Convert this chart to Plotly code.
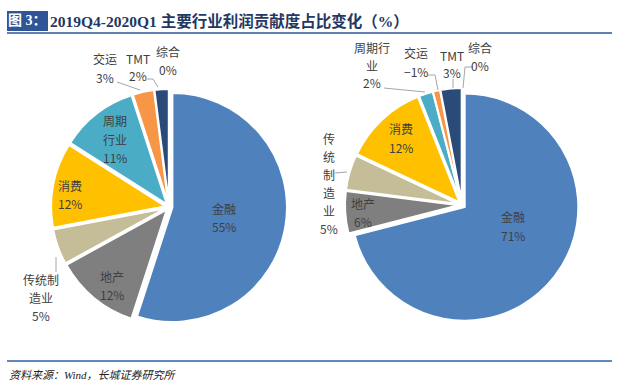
import plotly.graph_objects as go

# ---------------- data ----------------
categories = ["金融", "地产", "传统制造业", "消费", "周期行业", "交运", "TMT", "综合"]
share_2019q4 = [55, 12, 5, 12, 11, 3, 2, 0]
share_2020q1 = [71, 6, 5, 12, 2, -1, 3, 0]
colors = ["#4F81BD", "#7F7F7F", "#C4BD97", "#FFC000", "#4BACC6", "#F79646", "#2A4A78", "#8064A2"]

title_tag = "图 3："
title_text = "2019Q4-2020Q1 主要行业利润贡献度占比变化（%）"
source_text = "资料来源：Wind，长城证券研究所"

W, H = 635, 387


def px(x, y):
    return x / W, 1 - y / H


# label layout (wrapped text, pixel centre) – styling only
left_labels = {
    "金融": ("金融", 224, 217),
    "地产": ("地产", 112, 285),
    "传统制造业": ("传统制<br>造业", 41, 297),
    "消费": ("消费", 70, 194),
    "周期行业": ("周期<br>行业", 115, 139),
    "交运": ("交运", 105, 68),
    "TMT": ("TMT", 138, 67),
    "综合": ("综合", 168, 61),
}
right_labels = {
    "金融": ("金融", 513, 226),
    "地产": ("地产", 363, 212),
    "传统制造业": ("传<br>统<br>制<br>造<br>业", 329, 183),
    "消费": ("消费", 401, 138),
    "周期行业": ("周期行<br>业", 372, 65),
    "交运": ("交运", 416, 62),
    "TMT": ("TMT", 452, 64),
    "综合": ("综合", 480, 56),
}
left_leaders = [
    [(117, 82), (140, 90)],
    [(147, 79), (153, 79), (158, 87)],
    [(56, 257), (56, 272)],
]
right_leaders = [
    [(384, 88), (425, 92)],
    [(428, 75), (435, 75), (438, 90)],
    [(453, 79), (453, 88)],
    [(473, 67), (465, 67), (463, 88)],
    [(335, 173), (347, 172)],
]
LINE_GAP = 18


def fmt(v):
    return ("−" if v < 0 else "") + f"{abs(v)}%"


fig = go.Figure()

for vals, (cx, cy, half) in [(share_2019q4, (169, 207, 118)), (share_2020q1, (462, 205, 117))]:
    fig.add_trace(go.Pie(
        labels=categories,
        values=[abs(v) for v in vals],
        marker=dict(colors=colors, line=dict(color="white", width=2)),
        sort=False,
        direction="clockwise",
        rotation=0,
        pull=0.03,
        textinfo="none",
        showlegend=False,
        domain=dict(x=[(cx - half) / W, (cx + half) / W],
                    y=[1 - (cy + half) / H, 1 - (cy - half) / H]),
    ))

annotations = []
for vals, lab in [(share_2019q4, left_labels), (share_2020q1, right_labels)]:
    for cat, v in zip(categories, vals):
        txt, x, y = lab[cat]
        lines = txt.split("<br>") + [fmt(v)]
        n = len(lines)
        for i, line in enumerate(lines):
            ly = y + (i - (n - 1) / 2) * LINE_GAP
            ax, ay = px(x, ly)
            annotations.append(dict(
                x=ax, y=ay, xref="paper", yref="paper", showarrow=False,
                text=line, align="center",
                xanchor="center", yanchor="middle",
                font=dict(family="Noto Sans CJK SC", size=12, color="#404040"),
            ))

# title
annotations.append(dict(x=px(27, 21)[0], y=px(27, 21)[1], xref="paper", yref="paper",
                        showarrow=False, text=f"<b>{title_tag}</b>", xanchor="center", yanchor="middle",
                        font=dict(family="Liberation Serif, Noto Sans CJK SC", size=14, color="white")))
annotations.append(dict(x=px(48, 21)[0], y=px(48, 21)[1], xref="paper", yref="paper",
                        showarrow=False, text=f"<b>{title_text}</b>", xanchor="left", yanchor="middle",
                        font=dict(family="Liberation Serif, Noto Sans CJK SC", size=15.5, color="#1F3864")))
annotations.append(dict(x=px(7, 375)[0], y=px(7, 375)[1], xref="paper", yref="paper",
                        showarrow=False, text=f"<i>{source_text}</i>", xanchor="left", yanchor="middle",
                        font=dict(family="Liberation Serif, Noto Sans CJK SC", size=11, color="#222222")))

shapes = []
# title box
x0, y0 = px(7, 11)
x1, y1 = px(48, 31)
shapes.append(dict(type="rect", xref="paper", yref="paper", x0=x0, y0=y1, x1=x1, y1=y0,
                   fillcolor="#2F5597", line=dict(width=0), layer="below"))
# rules
for yy, col in [(33, "#2F5597"), (361, "#2E62A8")]:
    a, b = px(7, yy)
    c, _ = px(612, yy)
    shapes.append(dict(type="line", xref="paper", yref="paper", x0=a, y0=b, x1=c, y1=b,
                       line=dict(color=col, width=1.5)))
# leader lines
for poly in left_leaders + right_leaders:
    for (xa, ya), (xb, yb) in zip(poly[:-1], poly[1:]):
        p0 = px(xa, ya)
        p1 = px(xb, yb)
        shapes.append(dict(type="line", xref="paper", yref="paper", x0=p0[0], y0=p0[1],
                           x1=p1[0], y1=p1[1], line=dict(color="#A6A6A6", width=1)))

fig.update_layout(
    width=W, height=H,
    margin=dict(l=0, r=0, t=0, b=0),
    paper_bgcolor="white", plot_bgcolor="white",
    annotations=annotations, shapes=shapes,
)

fig.write_html("out.html", config={"displayModeBar": False},
               post_script="document.body.style.margin='0';document.body.style.padding='0';")
